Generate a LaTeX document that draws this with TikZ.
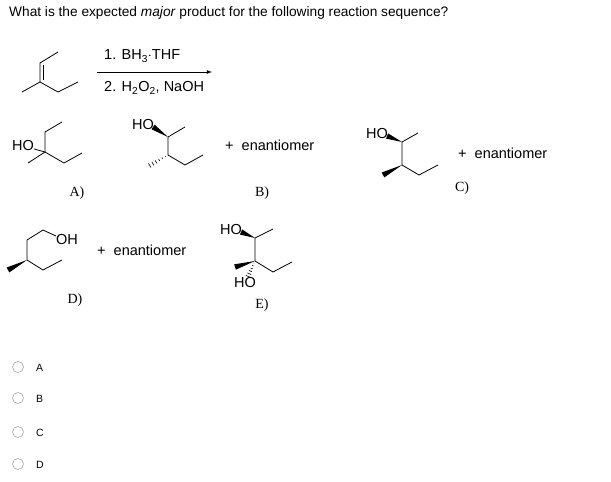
\documentclass[tikz,border=0pt]{standalone}
\usepackage{fontspec}
\setmainfont{Liberation Sans}
\newfontfamily\serif{Liberation Serif}
\usetikzlibrary{calc}
\newcommand\wdg[2]{\fill (#1) -- ($(#2)!2.8pt!90:(#1)$) -- ($(#2)!2.8pt!-90:(#1)$) -- cycle;}
\newcommand\hsh[2]{\foreach \t in {0.12,0.27,...,1.0}{\path ($(#1)!\t!(#2)$) coordinate (hp); \draw[line width=0.6pt] ($(hp)!\t*2.8pt!90:(#2)$) -- ($(hp)!\t*2.8pt!-90:(#2)$);}}
\tikzset{bond/.style={line width=0.8pt},txt/.style={font=\fontsize{14.5}{16}\selectfont,inner sep=0pt},
lab/.style={font=\serif\fontsize{14}{16}\selectfont,inner sep=0pt},
opt/.style={font=\fontsize{10.5}{12}\selectfont,inner sep=0pt,anchor=west}}
\begin{document}
\begin{tikzpicture}[x=1pt,y=-1pt]
\useasboundingbox (0,0) rectangle (611,482);
\node[font=\fontsize{13.7}{15}\selectfont,inner sep=0pt,anchor=west] (q) at (9,13) {What is the expected \textit{major} product for the following reaction sequence?};
% starting material
\coordinate (s1) at (40,63); \coordinate (s2) at (40,82);
\draw[bond] (58,52) -- (s1) -- (s2) -- (22,92);
\draw[bond] (s2) -- (58,92) -- (78,82);
\draw[bond] (43.5,65) -- (43.5,80);
% arrow
\coordinate (a1) at (97,72); \coordinate (a2) at (212,72);
\draw[line width=0.8pt,-latex] (a1) -- (a2);
\node[txt,anchor=west] (r1) at (104,56) {1. BH\textsubscript{3}$\cdot$THF};
\node[txt,anchor=west] (r2) at (104,88) {2. H\textsubscript{2}O\textsubscript{2}, NaOH};
% A
\node[txt] (ahO) at (23,146) {HO};
\coordinate (ac) at (45,152);
\draw[bond] (ahO.east) ++(0,3) -- (ac);
\draw[bond] (62,122) -- (45,132) -- (ac) -- (28,163);
\draw[bond] (ac) -- (64,163) -- (82,153);
\node[lab] (la) at (77,193) {A)};
% B
\node[txt] (bho) at (143,125) {HO};
\coordinate (b1) at (168,137); \coordinate (b2) at (168,155);
\wdg{b1}{$(bho.east)+(-1,2)$}
\draw[bond] (185,127) -- (b1) -- (b2) -- (185,165) -- (203,155);
\hsh{b2}{147,167}
\node[txt,anchor=west] (be) at (225,145) {+\ \ enantiomer};
\node[lab] (lb) at (262,193) {B)};
% C
\node[txt] (cho) at (377,134) {HO};
\coordinate (c1) at (402,142); \coordinate (c2) at (402,165);
\wdg{c1}{$(cho.east)+(-1,2)$}
\draw[bond] (418,133) -- (c1) -- (c2) -- (419,175) -- (438,165);
\wdg{c2}{383,175}
\node[txt,anchor=west] (ce) at (458,153) {+\ \ enantiomer};
\node[lab] (lc) at (462,188) {C)};
% D
\coordinate (d3) at (27,260);
\draw[bond] (d3) -- (27,240) -- (43,230) -- (56,236);
\node[txt,anchor=west] (doh) at (56,240) {OH};
\draw[bond] (d3) -- (43,270) -- (62,260);
\wdg{d3}{8,270}
\node[txt,anchor=west] (de) at (97,250) {+\ \ enantiomer};
\node[lab] (ld) at (75,300) {D)};
% E
\node[txt] (eho) at (231,230) {HO};
\coordinate (e1) at (255,238); \coordinate (e2) at (255,261);
\wdg{e1}{$(eho.east)+(-1,2)$}
\draw[bond] (273,229) -- (e1) -- (e2) -- (273,272) -- (292,262);
\wdg{e2}{235,267}
\node[txt] (eho2) at (245,283) {HO};
\hsh{e2}{$(eho2.north)+(2,1)$}
\node[lab] (le) at (262,305) {E)};
% options
\foreach \y/\l in {367/A,398/B,432/C,464/D}{
  \draw[gray!70,line width=0.6pt] (18,\y) circle (5.5);
  \node[opt] at (36,\y+1) {\l};
}
\end{tikzpicture}
\end{document}
